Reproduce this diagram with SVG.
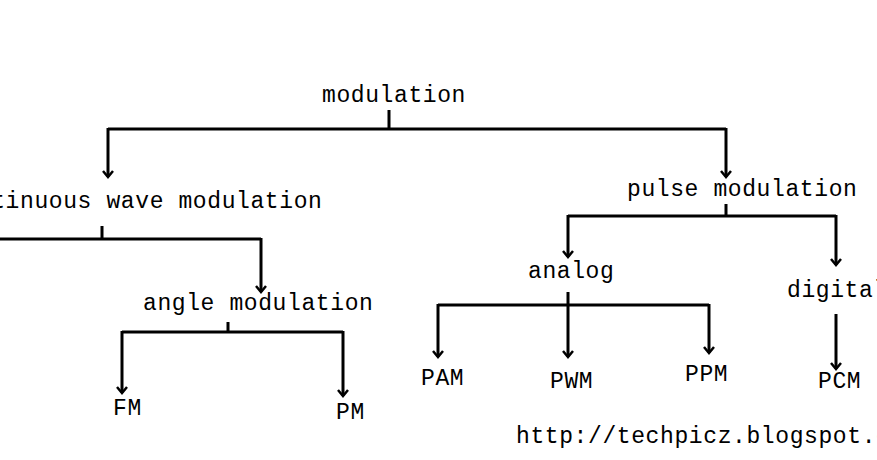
<svg xmlns="http://www.w3.org/2000/svg" width="877" height="460" viewBox="0 0 877 460">
<style>
text{font-family:"Liberation Mono","Courier New",monospace;font-size:23px;letter-spacing:0.6px;fill:#000}
.c path{fill:none;stroke:#000;stroke-width:3}
</style>
<defs><marker id="a" markerWidth="10" markerHeight="12" refX="8" refY="6" orient="auto" markerUnits="userSpaceOnUse" viewBox="0 0 10 12"><path d="M2,1 L8,6 L2,11" fill="none" stroke="#000" stroke-width="2.5"/></marker></defs>
<rect width="877" height="460" fill="#fff"/>
<g class="c">
<path d="M389,110V129M108,129H726"/>
<path d="M108,128V177" marker-end="url(#a)"/><path d="M726,128V177" marker-end="url(#a)"/>
<path d="M102,226V239M-5,239H261"/><path d="M261,238V292" marker-end="url(#a)"/>
<path d="M228,322V332M122,332H343"/><path d="M122,331V393" marker-end="url(#a)"/><path d="M343,331V396" marker-end="url(#a)"/>
<path d="M726,204V216M568,216H836"/><path d="M568,215V257" marker-end="url(#a)"/><path d="M836,215V265" marker-end="url(#a)"/>
<path d="M438,305H709"/><path d="M568,292V357" marker-end="url(#a)"/><path d="M438,304V357" marker-end="url(#a)"/><path d="M709,304V353" marker-end="url(#a)"/>
<path d="M836,314V369" marker-end="url(#a)"/>
</g>
<g id="n-mod"><text x="322" y="102">modulation</text></g>
<g id="n-cw"><text x="-52" y="208">continuous wave modulation</text></g>
<g id="n-angle"><text x="143" y="310">angle modulation</text></g>
<g id="n-fm"><text x="113" y="415">FM</text></g>
<g id="n-pm"><text x="336" y="419">PM</text></g>
<g id="n-pulse"><text x="627" y="196">pulse modulation</text></g>
<g id="n-analog"><text x="528" y="278">analog</text></g>
<g id="n-digital"><text x="787" y="297">digital</text></g>
<g id="n-pam"><text x="421" y="385">PAM</text></g>
<g id="n-pwm"><text x="550" y="388">PWM</text></g>
<g id="n-ppm"><text x="685" y="381">PPM</text></g>
<g id="n-pcm"><text x="818" y="388">PCM</text></g>
<g id="url"><text x="516" y="443">http://techpicz.blogspot.com</text></g>
</svg>
